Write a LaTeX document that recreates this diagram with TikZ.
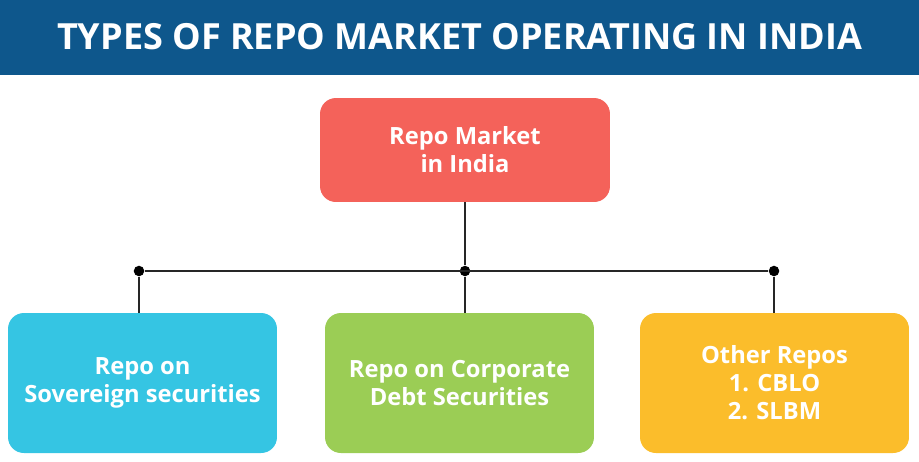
\documentclass[tikz,border=0pt]{standalone}
\usepackage{fontspec}
\setmainfont{Open Sans}
\usetikzlibrary{positioning}
\definecolor{bandblue}{HTML}{0E578C}
\definecolor{boxred}{HTML}{F4625A}
\definecolor{boxcyan}{HTML}{35C5E3}
\definecolor{boxgreen}{HTML}{9BCD55}
\definecolor{boxyellow}{HTML}{FBBD2B}
\tikzset{
  box/.style={rounded corners=9pt, text=white, font=\bfseries\fontsize{13.5}{16}\selectfont, align=center, inner sep=0pt},
  link/.style={line width=1.2pt, black!85},
  dot/.style={circle, fill=black, inner sep=0pt, minimum size=6pt}
}
\begin{document}
\begin{tikzpicture}[x=0.02cm, y=-0.02cm]
  \useasboundingbox (0,0) rectangle (919,461);
  \fill[bandblue] (0,0) rectangle (919,75);
  \node[text=white, font=\bfseries\fontsize{20.5}{24}\selectfont] (title) at (459.5,37) {TYPES OF REPO MARKET OPERATING IN INDIA};

  \node[box, fill=boxred, minimum width=5.8cm, minimum height=2.08cm] (top) at (465,150) {Repo Market\\in India};
  \node[box, fill=boxcyan, minimum width=5.38cm, minimum height=2.8cm] (left) at (142.5,383) {Repo on\\Sovereign securities};
  \node[box, fill=boxgreen, minimum width=5.38cm, minimum height=2.8cm] (mid) at (459.5,383) {Repo on Corporate\\Debt Securities};
  \node[box, fill=boxyellow, minimum width=5.38cm, minimum height=2.8cm] (right) at (774.5,383) {Other Repos\\1. CBLO\\2. SLBM};

  \node[dot] (jl) at (139,271) {};
  \node[dot] (jm) at (465,271) {};
  \node[dot] (jr) at (774,271) {};

  \draw[link] (top) -- (jm);
  \draw[link] (jl) -- (jr);
  \draw[link] (jl) -- (jl |- left.north);
  \draw[link] (jm) -- (jm |- mid.north);
  \draw[link] (jr) -- (jr |- right.north);
\end{tikzpicture}
\end{document}
